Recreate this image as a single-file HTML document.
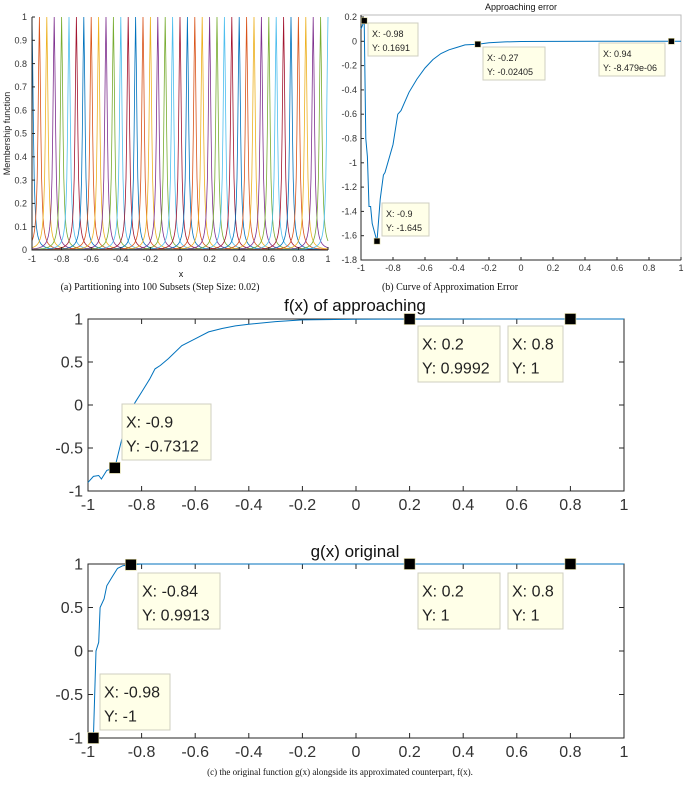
<!DOCTYPE html>
<html><head><meta charset="utf-8"><style>
body{margin:0;background:#fff;}
svg{display:block;font-family:"Liberation Sans",sans-serif;}
.cap{font-family:"Liberation Serif",serif;fill:#111;}
</style></head><body>
<svg id="fig" width="685" height="785" viewBox="0 0 685 785" xmlns="http://www.w3.org/2000/svg">
<g id="pa"></g>
<g id="pb"></g>
<g id="pc"></g>
<g id="pd"></g>
<text class="cap" x="160" y="290" font-size="10" text-anchor="middle">(a) Partitioning into 100 Subsets (Step Size: 0.02)</text>
<text class="cap" x="450" y="290" font-size="10" text-anchor="middle">(b) Curve of Approximation Error</text>
<text class="cap" x="340" y="775" font-size="9" text-anchor="middle">(c) the original function g(x) alongside its approximated counterpart, f(x).</text>
</svg>
<script>
// ---- data ----
const mfCenters=[-1,-0.95,-0.9,-0.85,-0.8,-0.75,-0.7,-0.65,-0.6,-0.55,-0.5,-0.45,-0.4,-0.35,-0.3,-0.25,-0.2,-0.15,-0.1,-0.05,0,0.05,0.1,0.15,0.2,0.25,0.3,0.35,0.4,0.45,0.5,0.55,0.6,0.65,0.7,0.75,0.8,0.85,0.9,0.95,1];
const mfWidth=0.01;
const xTicks=[-1,-0.8,-0.6,-0.4,-0.2,0,0.2,0.4,0.6,0.8,1];
const xTickLabels=["-1","-0.8","-0.6","-0.4","-0.2","0","0.2","0.4","0.6","0.8","1"];
const aYTicks=[0,0.1,0.2,0.3,0.4,0.5,0.6,0.7,0.8,0.9,1];
const bYTicks=[0.2,0,-0.2,-0.4,-0.6,-0.8,-1,-1.2,-1.4,-1.6,-1.8];
const cdYTicks=[1,0.5,0,-0.5,-1];
const errX=[-1,-0.98,-0.97,-0.96,-0.95,-0.94,-0.93,-0.92,-0.9,-0.88,-0.86,-0.85,-0.8,-0.77,-0.75,-0.7,-0.65,-0.6,-0.55,-0.5,-0.45,-0.4,-0.35,-0.27,-0.2,-0.1,0,0.2,0.5,0.94,1];
const errY=[0.1,0.1691,-0.8,-0.95,-1.36,-1.36,-1.5,-1.55,-1.645,-1.3,-1.1,-1.08,-0.85,-0.6,-0.57,-0.42,-0.31,-0.22,-0.15,-0.1,-0.07,-0.05,-0.03,-0.02405,-0.012,-0.005,-0.002,-0.0005,0,-0.0000085,0];
const fX=[-1,-0.98,-0.96,-0.95,-0.93,-0.9,-0.87,-0.85,-0.82,-0.8,-0.77,-0.75,-0.73,-0.7,-0.65,-0.6,-0.55,-0.5,-0.45,-0.4,-0.3,-0.2,0,0.2,0.5,1];
const fY=[-0.9,-0.83,-0.82,-0.86,-0.76,-0.7312,-0.35,-0.1,0.05,0.15,0.3,0.42,0.46,0.54,0.69,0.77,0.85,0.89,0.92,0.94,0.97,0.99,0.998,0.9992,1,1];
const gX=[-0.98,-0.975,-0.97,-0.96,-0.955,-0.94,-0.93,-0.91,-0.89,-0.87,-0.84,-0.8,1];
const gY=[-1,-0.5,0,0.1,0.5,0.6,0.75,0.85,0.95,0.98,0.9913,1,1];
const bTips=[[-0.98,0.1691,"X: -0.98","Y: 0.1691",368,23,50],[-0.27,-0.02405,"X: -0.27","Y: -0.02405",483,47,62],[0.94,-0.0000085,"X: 0.94","Y: -8.479e-06",599,43,66],[-0.9,-1.645,"X: -0.9","Y: -1.645",382,203,47]];
const cTips=[[-0.9,-0.7312,"X: -0.9","Y: -0.7312",122,404,89],[0.2,0.9992,"X: 0.2","Y: 0.9992",418,326,82],[0.8,1,"X: 0.8","Y: 1",508,326,55]];
const dTips=[[-0.84,0.9913,"X: -0.84","Y: 0.9913",138,573,82],[-0.98,-1,"X: -0.98","Y: -1",100,674,70],[0.2,1,"X: 0.2","Y: 1",418,573,82],[0.8,1,"X: 0.8","Y: 1",508,573,55]];
const colors=["#0072BD","#D95319","#EDB120","#7E2F8E","#77AC30","#4DBEEE","#A2142F"];
// ---- helpers ----
const NS="http://www.w3.org/2000/svg";
function mk(p,t,a){const e=document.createElementNS(NS,t);for(const k in a)e.setAttribute(k,a[k]);p.appendChild(e);return e;}
function lin(d0,d1,r0,r1){return v=>r0+(v-d0)/(d1-d0)*(r1-r0);}
function axes(g,sx,sy,L,T,R,B,yT,fs,box,tl){
  if(box){const r=mk(g,'rect',{x:L,y:T,width:R-L,height:B-T,fill:'none',stroke:'#262626','stroke-width':1});}
  else{const l=mk(g,'path',{d:`M${L},${T}V${B}H${R}`,fill:'none',stroke:'#262626'});}
  xTicks.forEach((v,i)=>{const x=sx(v);mk(g,'line',{x1:x,x2:x,y1:B,y2:B-tl,stroke:'#262626'});if(box)mk(g,'line',{x1:x,x2:x,y1:T,y2:T+tl,stroke:'#262626'});
    const t=mk(g,'text',{x:x,y:B+fs+3,'font-size':fs,'text-anchor':'middle',fill:'#333'});t.textContent=xTickLabels[i];});
  yT.forEach(v=>{const y=sy(v);mk(g,'line',{x1:L,x2:L+tl,y1:y,y2:y,stroke:'#262626'});if(box)mk(g,'line',{x1:R,x2:R-tl,y1:y,y2:y,stroke:'#262626'});
    const t=mk(g,'text',{x:L-5,y:y+fs*0.35,'font-size':fs,'text-anchor':'end',fill:'#333'});t.textContent=String(v);});
}
function line(g,sx,sy,X,Y,name){const d=X.map((x,i)=>(i?'L':'M')+sx(x).toFixed(1)+','+sy(Y[i]).toFixed(1)).join('');const p=mk(g,'path',{d:d,fill:'none',stroke:'#0072BD','stroke-width':1});}
function tips(g,sx,sy,arr,fs,ms,h){arr.forEach(t=>{
  const r=mk(g,'rect',{x:t[4],y:t[5],width:t[6],height:h,fill:'#ffffe8',stroke:'#cfcfc0'});
  const a=mk(g,'text',{x:t[4]+4,y:t[5]+h*0.42,'font-size':fs,fill:'#222'});a.textContent=t[2];
  const b=mk(g,'text',{x:t[4]+4,y:t[5]+h*0.85,'font-size':fs,fill:'#222'});b.textContent=t[3];
  const m=mk(g,'rect',{x:sx(t[0])-ms/2,y:sy(t[1])-ms/2,width:ms,height:ms,fill:'#000',stroke:'#ddd8a0','stroke-width':0.6});});}
function title(g,x,y,fs,s,name){const t=mk(g,'text',{x:x,y:y,'font-size':fs,'text-anchor':'middle',fill:'#111'});t.textContent=s;}
// ---- panel a ----
(function(){const g=document.getElementById('pa');const L=32,T=17,R=328,B=250;
  const sx=lin(-1,1,L,R),sy=lin(0,1,B,T);
  const cl=mk(g,'clipPath',{id:'ca'});mk(cl,'rect',{x:L,y:T-1,width:R-L+1,height:B-T+1});
  const cg=mk(g,'g',{'clip-path':'url(#ca)'});
  mfCenters.forEach((c,i)=>{const xs=[];for(let k=0;k<=400;k++)xs.push(-1+k*0.005);xs.push(c);xs.sort((a,b)=>a-b);
    const d=xs.map((x,k)=>{const u=(x-c)/mfWidth;const y=1/(1+u*u);return (k?'L':'M')+sx(x).toFixed(1)+','+sy(y).toFixed(1);}).join('');
    const p=mk(cg,'path',{d:d,fill:'none',stroke:colors[i%7],'stroke-width':0.8});});
  axes(g,sx,sy,L,T,R,B,aYTicks,9,false,3);
  title(g,181,277,9,'x','x-axis-title');
  const t=mk(g,'text',{x:10,y:(T+B)/2,'font-size':9,'text-anchor':'middle',fill:'#222',transform:`rotate(-90 10 ${(T+B)/2})`});t.textContent='Membership function';
})();
// ---- panel b ----
(function(){const g=document.getElementById('pb');const L=361,T=15,R=681,B=260;
  const sx=lin(-1,1,L,R),sy=lin(0.2,-1.8,17,260);
  mk(g,'rect',{x:L,y:T,width:R-L,height:B-T,fill:'none',stroke:'#bbb'});
  xTicks.forEach((v,i)=>{const t=mk(g,'text',{x:sx(v),y:B+11,'font-size':9,'text-anchor':'middle',fill:'#333'});t.textContent=xTickLabels[i];mk(g,'line',{x1:sx(v),x2:sx(v),y1:B,y2:B-3,stroke:'#262626'});});
  bYTicks.forEach(v=>{const t=mk(g,'text',{x:L-4,y:sy(v)+3,'font-size':9,'text-anchor':'end',fill:'#333'});t.textContent=String(v);mk(g,'line',{x1:L,x2:L+3,y1:sy(v),y2:sy(v),stroke:'#262626'});});
  mk(g,'path',{d:`M${L},${T}V${B}H${R}`,fill:'none',stroke:'#262626'});
  line(g,sx,sy,errX,errY,'error-line');
  tips(g,sx,sy,bTips,9,6,33);
  title(g,521,10,9,'Approaching error','chart-title-b');
})();
// ---- panel c ----
(function(){const g=document.getElementById('pc');const L=88,T=319,R=624,B=491;
  const sx=lin(-1,1,L,R),sy=lin(1,-1,T,B);
  axes(g,sx,sy,L,T,R,B,cdYTicks,16,true,5);
  line(g,sx,sy,fX,fY,'fx-line');
  tips(g,sx,sy,cTips,16,11,56);
  title(g,355,311,17,'f(x) of approaching','chart-title-c');
})();
// ---- panel d ----
(function(){const g=document.getElementById('pd');const L=88,T=564,R=624,B=738;
  const sx=lin(-1,1,L,R),sy=lin(1,-1,T,B);
  axes(g,sx,sy,L,T,R,B,cdYTicks,16,true,5);
  line(g,sx,sy,gX,gY,'gx-line');
  tips(g,sx,sy,dTips,16,11,56);
  title(g,355,557,17,'g(x) original','chart-title-d');
})();
</script>
</body></html>
